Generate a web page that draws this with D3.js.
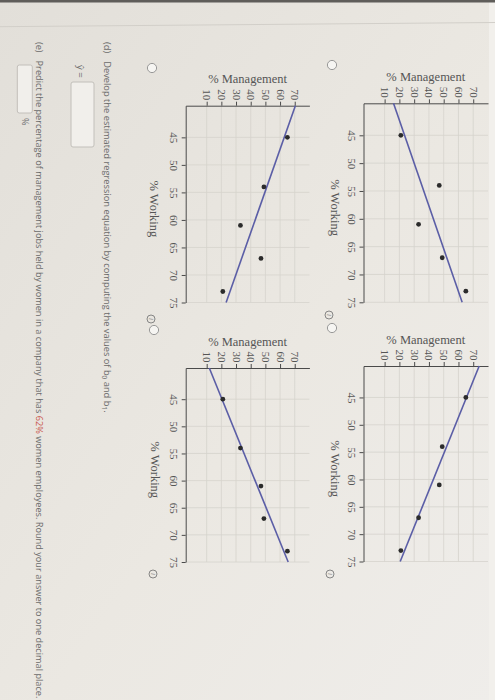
<!DOCTYPE html>
<html><head><meta charset="utf-8">
<script src="https://cdn.jsdelivr.net/npm/d3@7"></script>
<style>html,body{margin:0;padding:0;background:#e8e5df;} svg{display:block}</style>
</head><body>
<svg id="c" width="495" height="700"></svg>
<script>
// ---- data ----
const workingTicks = [45, 50, 55, 60, 65, 70, 75];
const managementTicks = [10, 20, 30, 40, 50, 60, 70];
const workingValues = [45, 54, 61, 67, 73];
const managementA = [65, 49, 33, 47, 21];
const managementB = [21, 47, 33, 49, 65];
const managementC = [21, 33, 47, 49, 65];
const managementD = [65, 49, 47, 33, 21];
const lineIntercepts = [122.25, -35, -47.25, 132.75];
const lineSlopes = [-1.32, 1.3, 1.504, -1.496];
const workingDomain = [39.25, 75];
const managementDomain = [-4.3, 80];
const xTitle = "% Working";
const yTitle = "% Management";
const qD = ["(d)", "Develop the estimated regression equation by computing the values of b", "0", " and b", "1", "."];
const qE = ["(e)", "Predict the percentage of management jobs held by women in a company that has ", "62%", " women employees. Round your answer to one decimal place."];

// ---- layout ----
const panels = [
  {m: managementA, x0: 185.7, x1: 309.4, y0: 105.7, y1: 302.5, wOff: 32},
  {m: managementB, x0: 363.5, x1: 488.0, y0: 103.3, y1: 302.3, wOff: 28.5},
  {m: managementC, x0: 185.7, x1: 309.4, y0: 368.0, y1: 562.0, wOff: 31},
  {m: managementD, x0: 363.5, x1: 488.0, y0: 366.0, y1: 561.5, wOff: 28.5}
];

const svg = d3.select("#c");
const defs = svg.append("defs");
const grad = defs.append("linearGradient").attr("id", "bg").attr("x1", 0).attr("y1", 0).attr("x2", 1).attr("y2", 1);
grad.append("stop").attr("offset", "0%").attr("stop-color", "#e2dfd9");
grad.append("stop").attr("offset", "55%").attr("stop-color", "#ebe8e2");
grad.append("stop").attr("offset", "100%").attr("stop-color", "#efedea");
svg.append("rect").attr("width", 495).attr("height", 700).attr("fill", "url(#bg)");
svg.append("rect").attr("x", 489).attr("y", 0).attr("width", 6).attr("height", 700).attr("fill", "#f2f0ec");
svg.append("rect").attr("width", 495).attr("height", 2.5).attr("fill", "#5f5d5a");
svg.append("line").attr("x1", 0).attr("y1", 26.7).attr("x2", 495).attr("y2", 22.5)
  .attr("stroke", "#d2cfc9").attr("stroke-width", 1);

const serif = "'Liberation Serif', 'DejaVu Serif', serif";
const sans = "'Open Sans', 'Noto Sans', sans-serif";

panels.forEach((p, i) => {
  const x = d3.scaleLinear().domain(managementDomain).range([p.x0, p.x1]);
  const y = d3.scaleLinear().domain(workingDomain).range([p.y0, p.y1]);
  const g = svg.append("g");
  // grid
  g.selectAll(".vg").data(managementTicks).join("line")
    .attr("x1", d => x(d)).attr("x2", d => x(d)).attr("y1", p.y0).attr("y2", p.y1)
    .attr("stroke", "#d6d3cd").attr("stroke-width", 0.8);
  g.selectAll(".hg").data(workingTicks).join("line")
    .attr("x1", p.x0).attr("x2", p.x1).attr("y1", d => y(d)).attr("y2", d => y(d))
    .attr("stroke", "#d6d3cd").attr("stroke-width", 0.8);
  // management axis (top)
  const ax = g.append("g").attr("transform", `translate(0,${p.y0})`)
    .call(d3.axisTop(x).tickValues(managementTicks).tickSize(4).tickSizeOuter(0));
  ax.select(".domain").attr("stroke", "#4a4a4a");
  ax.selectAll(".tick line").attr("stroke", "#4a4a4a");
  ax.selectAll(".tick text").attr("x", 0).attr("y", 0).attr("dy", null)
    .attr("transform", "translate(0,-5.5) rotate(90)")
    .attr("text-anchor", "end").attr("dominant-baseline", "central")
    .attr("font-family", serif).attr("font-size", 11).attr("fill", "#555");
  // working axis (left)
  const ay = g.append("g").attr("transform", `translate(${p.x0},0)`)
    .call(d3.axisLeft(y).tickValues(workingTicks).tickSize(4).tickSizeOuter(0));
  ay.select(".domain").attr("stroke", "#4a4a4a");
  ay.selectAll(".tick line").attr("stroke", "#4a4a4a");
  ay.selectAll(".tick text").attr("x", 0).attr("y", 0).attr("dy", null)
    .attr("transform", "translate(-11.5,0) rotate(90)")
    .attr("text-anchor", "middle").attr("dominant-baseline", "central")
    .attr("font-family", serif).attr("font-size", 11).attr("fill", "#555");
  // titles
  g.append("text").attr("x", (p.x0 + p.x1) / 2).attr("y", p.y0 - 22.5)
    .attr("text-anchor", "middle").attr("font-family", serif).attr("font-size", 12.5)
    .attr("fill", "#555").text(yTitle);
  g.append("text").attr("transform", `translate(${p.x0 - p.wOff},${y(58)}) rotate(90)`)
    .attr("text-anchor", "middle").attr("dominant-baseline", "central")
    .attr("font-family", serif).attr("font-size", 12.5).attr("fill", "#555").text(xTitle);
  // regression line
  const b0 = lineIntercepts[i], b1 = lineSlopes[i];
  const ends = workingDomain.map(w => [x(b0 + b1 * w), y(w)]);
  g.append("line").attr("x1", ends[0][0]).attr("y1", ends[0][1]).attr("x2", ends[1][0]).attr("y2", ends[1][1])
    .attr("stroke", "#5b5ea6").attr("stroke-width", 1.6);
  // points
  g.selectAll("circle.pt").data(workingValues).join("circle")
    .attr("cx", (d, k) => x(p.m[k])).attr("cy", d => y(d)).attr("r", 2.4).attr("fill", "#2b2b2b");
});

// radio buttons and info icons
const radios = [[152, 68], [332, 65], [154, 330], [332, 328]];
svg.selectAll("circle.radio").data(radios).join("circle")
  .attr("cx", d => d[0]).attr("cy", d => d[1]).attr("r", 4.6)
  .attr("fill", "#f6f5f2").attr("stroke", "#8f8f8f").attr("stroke-width", 0.9);
const infos = [[151, 319], [329, 315], [153, 574], [330, 574]];
infos.forEach(d => {
  svg.append("circle").attr("cx", d[0]).attr("cy", d[1]).attr("r", 4)
    .attr("fill", "none").attr("stroke", "#7a7a7a").attr("stroke-width", 0.9);
  svg.append("text").attr("transform", `translate(${d[0]},${d[1]}) rotate(90)`)
    .attr("text-anchor", "middle").attr("dominant-baseline", "central")
    .attr("font-family", serif).attr("font-style", "italic").attr("font-size", 7)
    .attr("fill", "#6a6a6a").text("i");
});

// question text (rotated page)
const tD = svg.append("text").attr("transform", "translate(103.5,42) rotate(90)")
  .attr("font-family", sans).attr("font-size", 9.3).attr("fill", "#6b6b6b");
tD.append("tspan").text(qD[0]);
tD.append("tspan").attr("dx", 8).text(qD[1]);
tD.append("tspan").attr("dy", 2).attr("font-size", 6.5).text(qD[2]);
tD.append("tspan").attr("dy", -2).text(qD[3]);
tD.append("tspan").attr("dy", 2).attr("font-size", 6.5).text(qD[4]);
tD.append("tspan").attr("dy", -2).text(qD[5]);

svg.append("text").attr("transform", "translate(77,65) rotate(90)")
  .attr("font-family", sans).attr("font-size", 9.5).attr("fill", "#6b6b6b").text("ŷ =");
svg.append("rect").attr("x", 71).attr("y", 82).attr("width", 23).attr("height", 65).attr("rx", 2)
  .attr("fill", "#f1efeb").attr("stroke", "#c2bfba").attr("stroke-width", 1);

const tE = svg.append("text").attr("transform", "translate(36,42) rotate(90)")
  .attr("font-family", sans).attr("font-size", 9.2).attr("fill", "#6b6b6b");
tE.append("tspan").text(qE[0]);
tE.append("tspan").attr("dx", 8).text(qE[1]);
tE.append("tspan").attr("fill", "#c9564c").text(qE[2]);
tE.append("tspan").text(qE[3]);

svg.append("rect").attr("x", 17.3).attr("y", 65).attr("width", 15).attr("height", 48).attr("rx", 2)
  .attr("fill", "#f1efeb").attr("stroke", "#c2bfba").attr("stroke-width", 1);
svg.append("text").attr("transform", "translate(21.7,118) rotate(90)")
  .attr("font-family", sans).attr("font-size", 9).attr("fill", "#6b6b6b").text("%");
</script>
</body></html>
